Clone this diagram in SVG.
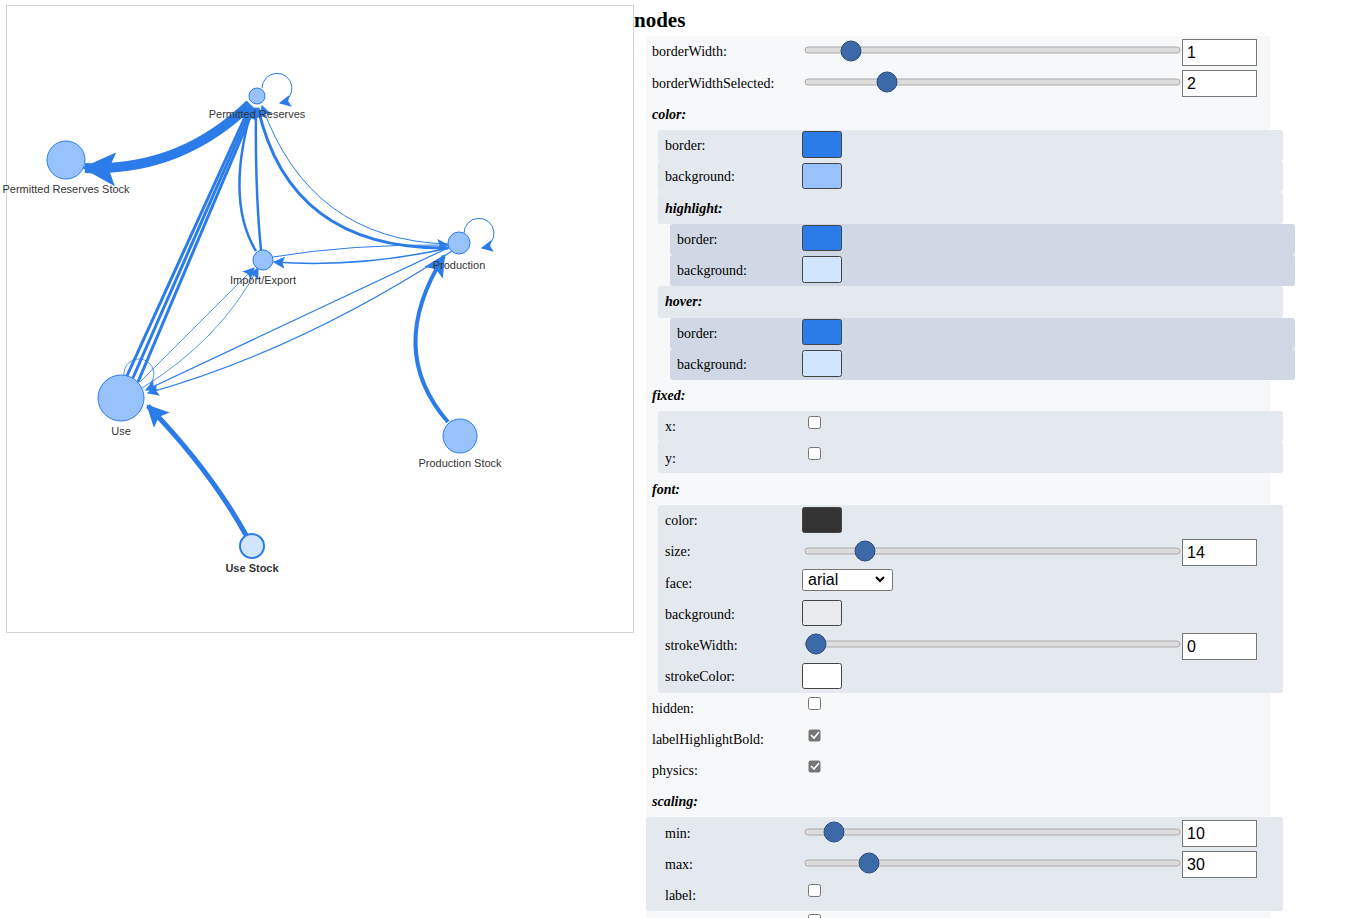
<svg xmlns="http://www.w3.org/2000/svg" width="1362" height="918" viewBox="0 0 1362 918">
<style>
.e{fill:none;stroke:#2b7ce9}
.n{fill:#97c2fc;stroke:#2b7ce9;stroke-width:1}
.lb{font-family:"Liberation Sans",Arial,sans-serif;font-size:11px;fill:#343434;text-anchor:middle}
.t{font-family:"Liberation Serif","Times New Roman",serif;font-size:14px;fill:#000}
.h{font-family:"Liberation Serif","Times New Roman",serif;font-size:14px;font-weight:bold;font-style:italic}
.r0{fill:#f7f8fa}.r1{fill:#e4e8ef}.r2{fill:#d0d8e5}
.trk{fill:#ddd;stroke:#aaa;stroke-width:1}
.knob{fill:#3c6aa8;stroke:#2a4b7a;stroke-width:1}
.in{fill:#fff;stroke:#767676;stroke-width:1}
.iv{font-family:"Liberation Sans",Arial,sans-serif;font-size:16px}
.sw{stroke:#444;stroke-width:1}
.cb{fill:#fff;stroke:#767676;stroke-width:1}
</style>
<defs>
<marker id="a" viewBox="0 0 10 10" refX="9" refY="5" markerWidth="12" markerHeight="12" markerUnits="userSpaceOnUse" orient="auto"><path d="M0,0L10,5L0,10L2,5z" fill="#2b7ce9"/></marker>
<marker id="b" viewBox="0 0 10 10" refX="9" refY="5" markerWidth="22" markerHeight="22" markerUnits="userSpaceOnUse" orient="auto"><path d="M0,0L10,5L0,10L2,5z" fill="#2b7ce9"/></marker>
<marker id="c" viewBox="0 0 10 10" refX="9" refY="5" markerWidth="34" markerHeight="34" markerUnits="userSpaceOnUse" orient="auto"><path d="M0,0L10,5L0,10L2,5z" fill="#2b7ce9"/></marker>
</defs>
<rect width="1362" height="918" fill="#fff"/>
<rect x="6.5" y="5.5" width="627" height="627" fill="#fff" stroke="#d3d3d3"/>
<g id="connectors">
<path class="e" stroke-width="10" d="M250,104 Q180,172 85,168" marker-end="url(#c)"/>
<path class="e" stroke-width="3" d="M126,378 L250,106" marker-end="url(#a)"/>
<path class="e" stroke-width="3" d="M132,380 L252,107" marker-end="url(#a)"/>
<path class="e" stroke-width="3" d="M138,382 L254,108" marker-end="url(#a)"/>
<path class="e" stroke-width="2.5" d="M256,251 Q225,200 252,108" marker-end="url(#a)"/>
<path class="e" stroke-width="2.5" d="M261,250 Q255,190 256,108" marker-end="url(#a)"/>
<path class="e" stroke-width="3" d="M448,248 Q290,250 258,108" marker-end="url(#a)"/>
<path class="e" stroke-width="1" d="M448,244 Q310,240 262,106" marker-end="url(#a)"/>
<path class="e" stroke-width="1" d="M273,257 Q350,244 448,245" marker-end="url(#a)"/>
<path class="e" stroke-width="1.5" d="M449,248 Q360,268 274,262" marker-end="url(#a)"/>
<path class="e" stroke-width="1.2" d="M450,247 L146,390" marker-end="url(#a)"/>
<path class="e" stroke-width="1.2" d="M452,251 Q300,350 148,393" marker-end="url(#a)"/>
<path class="e" stroke-width="0.8" d="M140,382 L254,268" marker-end="url(#a)"/>
<path class="e" stroke-width="0.8" d="M142,388 Q220,340 258,268" marker-end="url(#a)"/>
<path class="e" stroke-width="4" d="M448,422 Q385,350 444,256" marker-end="url(#b)"/>
<path class="e" stroke-width="5" d="M246,535 Q210,470 148,406" marker-end="url(#b)"/>
<path class="e" stroke-width="1" d="M262,88 A15,15 0 1 1 280,103" marker-end="url(#a)"/>
<path class="e" stroke-width="1" d="M464,233 A15,15 0 1 1 482,248" marker-end="url(#a)"/>
<path class="e" stroke-width="0.8" d="M124,376 A15,15 0 1 1 150,384"/>
</g>
<g id="n-pr"><circle class="n" cx="257" cy="96" r="8"/><text class="lb" x="257" y="118">Permitted Reserves</text></g>
<g id="n-prs"><circle class="n" cx="66" cy="160" r="19"/><text class="lb" x="66" y="193">Permitted Reserves Stock</text></g>
<g id="n-ie"><circle class="n" cx="263" cy="260" r="10"/><text class="lb" x="263" y="284">Import/Export</text></g>
<g id="n-prod"><circle class="n" cx="459" cy="243" r="11"/><text class="lb" x="459" y="269">Production</text></g>
<g id="n-use"><circle class="n" cx="121" cy="398" r="23"/><text class="lb" x="121" y="435">Use</text></g>
<g id="n-ps"><circle class="n" cx="460" cy="436" r="17"/><text class="lb" x="460" y="467">Production Stock</text></g>
<g id="n-us"><circle cx="252" cy="546" r="12" fill="#d2e5ff" stroke="#2b7ce9" stroke-width="2"/><text class="lb" x="252" y="572" font-weight="bold">Use Stock</text></g>
<g id="panel">
<text x="634" y="27" font-family="Liberation Serif,serif" font-size="21" font-weight="bold">nodes</text>
<rect class="r0" x="646" y="36" width="624" height="882"/>
<rect class="r1" x="658" y="130" width="625" height="31" rx="3"/>
<rect class="r1" x="658" y="161" width="625" height="31" rx="3"/>
<rect class="r1" x="658" y="192" width="625" height="32" rx="3"/>
<rect class="r2" x="670" y="224" width="625" height="31" rx="3"/>
<rect class="r2" x="670" y="255" width="625" height="31" rx="3"/>
<rect class="r1" x="658" y="286" width="625" height="32" rx="3"/>
<rect class="r2" x="670" y="318" width="625" height="31" rx="3"/>
<rect class="r2" x="670" y="349" width="625" height="31" rx="3"/>
<rect class="r1" x="658" y="411" width="625" height="31" rx="3"/>
<rect class="r1" x="658" y="442" width="625" height="31" rx="3"/>
<rect class="r1" x="658" y="505" width="625" height="188" rx="3"/>
<rect class="r1" x="646" y="817" width="637" height="94" rx="3"/>
<text class="t" x="652" y="56">borderWidth:</text>
<rect class="trk" x="805" y="47" width="375" height="6" rx="3"/><circle class="knob" cx="851" cy="51" r="10"/>
<rect class="in" x="1182.5" y="39.5" width="74" height="26"/><text class="iv" x="1187" y="58">1</text>
<text class="t" x="652" y="88">borderWidthSelected:</text>
<rect class="trk" x="805" y="79" width="375" height="6" rx="3"/><circle class="knob" cx="887" cy="82" r="10"/>
<rect class="in" x="1182.5" y="70.5" width="74" height="26"/><text class="iv" x="1187" y="89">2</text>
<text class="h" x="652" y="119">color:</text>
<text class="t" x="665" y="150">border:</text><rect class="sw" x="802.5" y="131.5" width="39" height="26" rx="2" fill="#2b7ce9"/>
<text class="t" x="665" y="181">background:</text><rect class="sw" x="802.5" y="163.5" width="39" height="25" rx="2" fill="#97c2fc"/>
<text class="h" x="665" y="213">highlight:</text>
<text class="t" x="677" y="244">border:</text><rect class="sw" x="802.5" y="225.5" width="39" height="25" rx="2" fill="#2b7ce9"/>
<text class="t" x="677" y="275">background:</text><rect class="sw" x="802.5" y="256.5" width="39" height="26" rx="2" fill="#d2e5ff"/>
<text class="h" x="665" y="306">hover:</text>
<text class="t" x="677" y="338">border:</text><rect class="sw" x="802.5" y="319.5" width="39" height="25" rx="2" fill="#2b7ce9"/>
<text class="t" x="677" y="369">background:</text><rect class="sw" x="802.5" y="350.5" width="39" height="26" rx="2" fill="#d2e5ff"/>
<text class="h" x="652" y="400">fixed:</text>
<text class="t" x="665" y="431">x:</text><rect class="cb" x="808.5" y="416.5" width="12" height="12" rx="2"/>
<text class="t" x="665" y="463">y:</text><rect class="cb" x="808.5" y="447.5" width="12" height="12" rx="2"/>
<text class="h" x="652" y="494">font:</text>
<text class="t" x="665" y="525">color:</text><rect class="sw" x="802.5" y="507.5" width="39" height="25" rx="2" fill="#343434"/>
<text class="t" x="665" y="556">size:</text>
<rect class="trk" x="805" y="548" width="375" height="6" rx="3"/><circle class="knob" cx="865" cy="551" r="10"/>
<rect class="in" x="1182.5" y="539.5" width="74" height="26"/><text class="iv" x="1187" y="558">14</text>
<text class="t" x="665" y="588">face:</text>
<rect class="in" x="802.5" y="569.5" width="90" height="21" rx="2"/><text class="iv" x="808" y="585">arial</text>
<path d="M876,577 l4,4 l4,-4" fill="none" stroke="#000" stroke-width="2"/>
<text class="t" x="665" y="619">background:</text><rect class="sw" x="802.5" y="600.5" width="39" height="25" rx="2" fill="#e9eaee"/>
<text class="t" x="665" y="650">strokeWidth:</text>
<rect class="trk" x="805" y="641" width="375" height="6" rx="3"/><circle class="knob" cx="816" cy="644" r="10"/>
<rect class="in" x="1182.5" y="633.5" width="74" height="26"/><text class="iv" x="1187" y="652">0</text>
<text class="t" x="665" y="681">strokeColor:</text><rect class="sw" x="802.5" y="663.5" width="39" height="25" rx="2" fill="#fff"/>
<text class="t" x="652" y="713">hidden:</text><rect class="cb" x="808.5" y="697.5" width="12" height="12" rx="2"/>
<text class="t" x="652" y="744">labelHighlightBold:</text><rect x="808.5" y="729.5" width="12" height="12" rx="2" fill="#767676"/><path d="M811,735 l3,3 l5,-6" fill="none" stroke="#fff" stroke-width="1.6"/>
<text class="t" x="652" y="775">physics:</text><rect x="808.5" y="760.5" width="12" height="12" rx="2" fill="#767676"/><path d="M811,766 l3,3 l5,-6" fill="none" stroke="#fff" stroke-width="1.6"/>
<text class="h" x="652" y="806">scaling:</text>
<text class="t" x="665" y="838">min:</text>
<rect class="trk" x="805" y="829" width="375" height="6" rx="3"/><circle class="knob" cx="834" cy="832" r="10"/>
<rect class="in" x="1182.5" y="820.5" width="74" height="26"/><text class="iv" x="1187" y="839">10</text>
<text class="t" x="665" y="869">max:</text>
<rect class="trk" x="805" y="860" width="375" height="6" rx="3"/><circle class="knob" cx="869" cy="863" r="10"/>
<rect class="in" x="1182.5" y="851.5" width="74" height="26"/><text class="iv" x="1187" y="870">30</text>
<text class="t" x="665" y="900">label:</text><rect class="cb" x="808.5" y="884.5" width="12" height="12" rx="2"/>
<rect class="cb" x="808.5" y="914.5" width="12" height="12" rx="2"/>
</g>
</svg>
